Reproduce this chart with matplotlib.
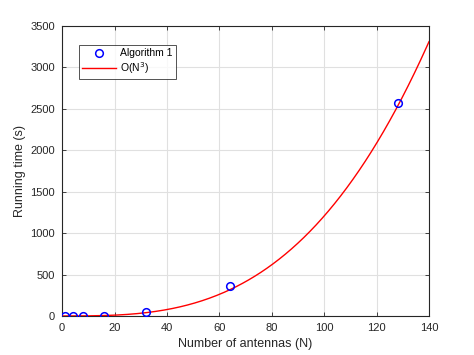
import numpy as np
import matplotlib
matplotlib.use("Agg")
import matplotlib.pyplot as plt

plt.rcParams['font.family'] = ['Liberation Sans', 'DejaVu Sans']

# Data
antennas = [1, 4, 8, 16, 32, 64, 128]
running_time = [0.01, 0.1, 0.6, 5, 45, 362, 2567]
cubic_coef = 0.001206  # O(N^3) fit coefficient
x_ticks = [0, 20, 40, 60, 80, 100, 120, 140]
y_ticks = [0, 500, 1000, 1500, 2000, 2500, 3000, 3500]

fig = plt.figure(figsize=(4.74, 3.55), dpi=100)
ax = fig.add_axes([0.131, 0.110, 0.774, 0.817])

n_curve = np.linspace(0, 140, 300)
ax.plot(antennas, running_time, linestyle='none', marker='o', markersize=5.5,
        markerfacecolor='none', markeredgecolor='#0000ff', markeredgewidth=1.1,
        label='Algorithm 1', zorder=4)
ax.plot(n_curve, cubic_coef * n_curve ** 3, color='#ff0000', linewidth=1.0,
        label='O(N$^3$)', zorder=3)

ax.set_xlim(0, 140)
ax.set_ylim(0, 3500)
ax.set_xticks(x_ticks)
ax.set_yticks(y_ticks)
ax.grid(True, color='#e0e0e0', linewidth=0.8)
ax.set_axisbelow(True)
ax.tick_params(direction='in', top=True, right=True, labelsize=8,
               colors='#262626', length=3, width=0.6, pad=5)
for s in ax.spines.values():
    s.set_color('#262626')
    s.set_linewidth(0.8)
ax.set_xlabel('Number of antennas (N)', fontsize=9, color='#262626', labelpad=4)
ax.set_ylabel('Running time (s)', fontsize=9, color='#262626', labelpad=3)

leg = ax.legend(loc='upper left', bbox_to_anchor=(0.047, 0.934), borderaxespad=0,
                fontsize=7.5, frameon=True, fancybox=False, edgecolor='#262626',
                borderpad=0.3, handlelength=3.2, labelspacing=0.2,
                handletextpad=0.4)
leg.get_frame().set_linewidth(0.7)

fig.savefig('out.png', dpi=100)
